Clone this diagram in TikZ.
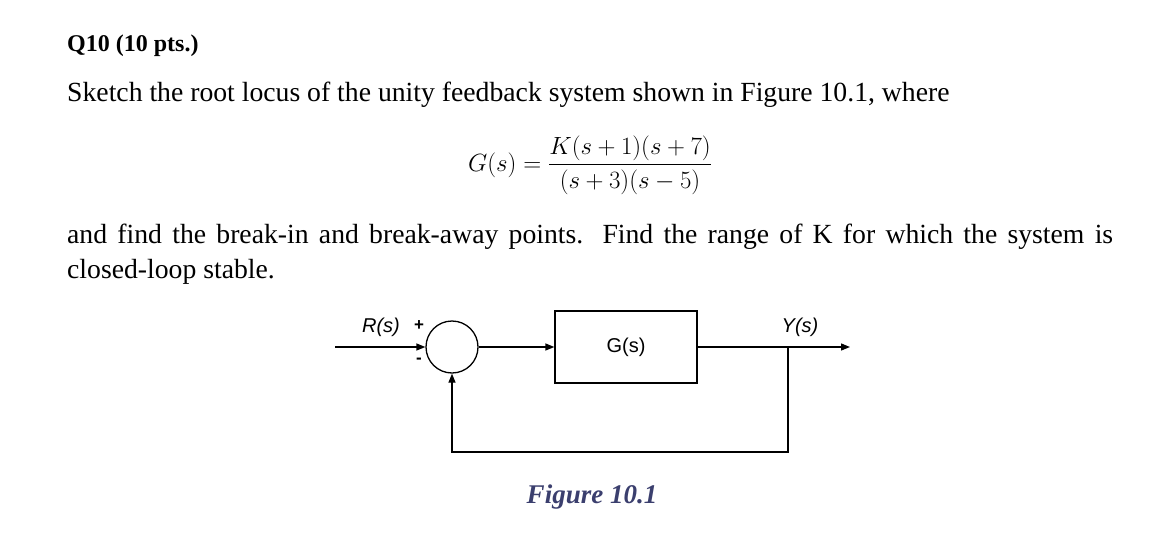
\documentclass[tikz,border=0pt]{standalone}
\usepackage{amsmath}
\usepackage{fontspec}
\setmainfont{Liberation Serif}
\newfontfamily\arial{Liberation Sans}
\usetikzlibrary{arrows.meta}
\definecolor{capc}{HTML}{3B3F6E}
\begin{document}
\begin{tikzpicture}[x=1pt,y=-1pt,
  line/.style={line width=1.3pt},
  arr/.style={line, -{Triangle[length=9pt,width=7pt]}},
  lab/.style={font=\arial\fontsize{20}{24}\selectfont\itshape, inner sep=0},
  txt/.style={anchor=base west, inner sep=0, font=\fontsize{27.7}{33}\selectfont}]
\useasboundingbox (0,0) rectangle (1170,554);
\node[txt, font=\fontsize{24}{29}\selectfont\bfseries] (title) at (67,51) {Q10 (10 pts.)};
\node[txt] (l1) at (67,101) {Sketch the root locus of the unity feedback system shown in Figure 10.1, where};
\node[inner sep=0, font=\fontsize{30}{36}\selectfont] (eq) at (590,165) {$G(s) = \dfrac{K(s+1)(s+7)}{(s+3)(s-5)}$};
\node[anchor=north west, inner sep=0, text width=1046pt, align=justify, font=\fontsize{27.7}{35}\selectfont] (para) at (67,224) {and find the break-in and break-away points. Find the range of K for which the system is closed-loop stable.};
\node[draw, line, circle, minimum size=52pt, inner sep=0] (sum) at (452,347) {};
\node[draw, line, minimum width=142pt, minimum height=72pt, font=\arial\fontsize{20}{24}\selectfont] (G) at (626,347) {G(s)};
\coordinate (in) at (335,347);
\coordinate (br) at (788,347);
\coordinate (out) at (850,347);
\coordinate (fb) at (788,452);
\draw[arr] (in) -- (sum.west);
\draw[arr] (sum.east) -- (G.west);
\draw[line] (G.east) -- (br);
\draw[arr] (br) -- (out);
\draw[arr] (br) -- (fb) -| (sum.south);
\node[lab] (R) at (381,327) {R(s)};
\node[lab] (Y) at (800,327) {Y(s)};
\node[lab, font=\arial\fontsize{17}{20}\selectfont\bfseries] (plus) at (419,326) {+};
\node[lab, font=\arial\fontsize{17}{20}\selectfont\bfseries] (minus) at (419,361) {-};
\node[inner sep=0, font=\fontsize{27}{32}\selectfont\bfseries\itshape, text=capc] (cap) at (592,497) {Figure 10.1};
\end{tikzpicture}
\end{document}
